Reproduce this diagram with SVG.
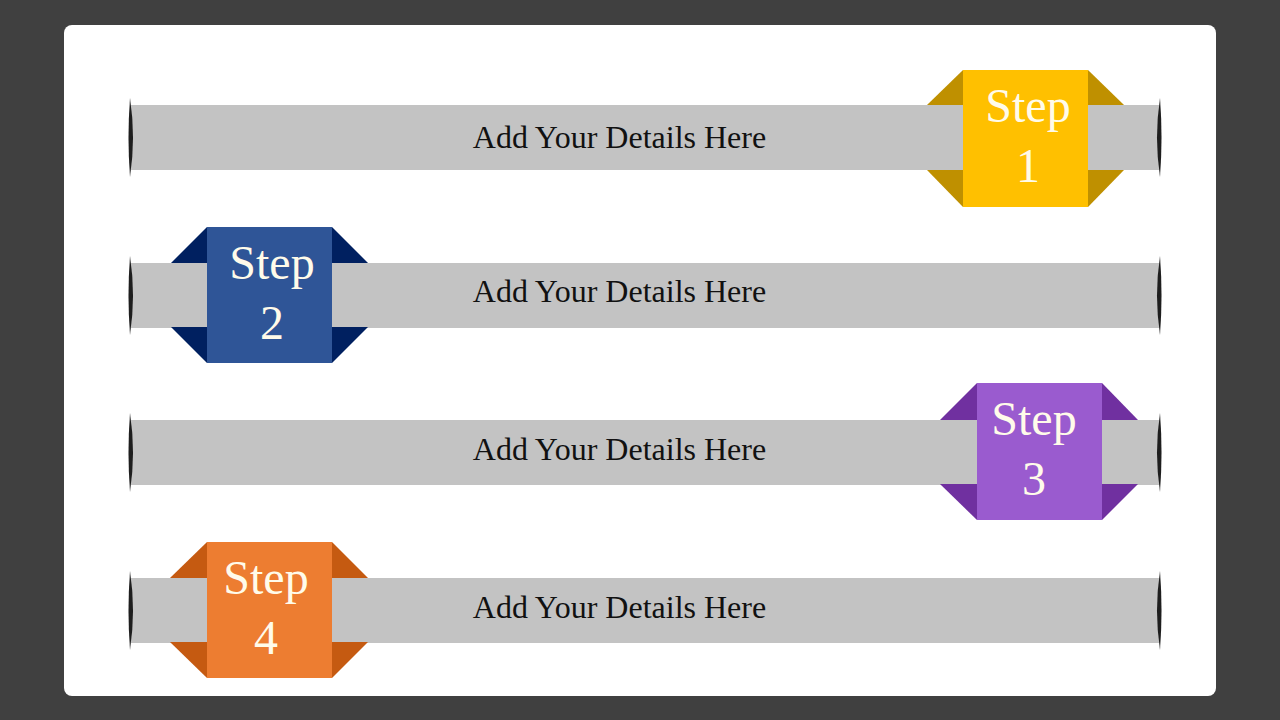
<svg xmlns="http://www.w3.org/2000/svg" width="1280" height="720" viewBox="0 0 1280 720">
  <defs>
    <style>
      .bar { fill: #C3C3C3; }
      .cap { fill: #1E1E1E; }
      .detail { font-family: "Liberation Serif", "DejaVu Serif", serif; font-size: 32px; fill: #111111; text-anchor: middle; }
      .step { font-family: "Liberation Serif", "DejaVu Serif", serif; font-size: 48px; fill: #FFFBEA; text-anchor: middle; }
    </style>
  </defs>
  <rect x="0" y="0" width="1280" height="720" fill="#404040"/>
  <rect x="64" y="25" width="1152" height="671" rx="8" ry="8" fill="#FFFFFF"/>

  <g id="bar1">
    <rect class="bar" x="131" y="105" width="1028" height="65"/>
    <path class="cap" d="M130,98 Q136,137.5 130,177 Q127,137.5 130,98 Z"/>
    <path class="cap" d="M1160,98 Q1163,137.5 1160,177 Q1154,137.5 1160,98 Z"/>
    <text class="detail" x="619.5" y="148">Add Your Details Here</text>
  </g>
  <g id="bar2">
    <rect class="bar" x="131" y="263" width="1028" height="65"/>
    <path class="cap" d="M130,256 Q136,295.5 130,335 Q127,295.5 130,256 Z"/>
    <path class="cap" d="M1160,256 Q1163,295.5 1160,335 Q1154,295.5 1160,256 Z"/>
    <text class="detail" x="619.5" y="302">Add Your Details Here</text>
  </g>
  <g id="bar3">
    <rect class="bar" x="131" y="420" width="1028" height="65"/>
    <path class="cap" d="M130,413 Q136,452.5 130,492 Q127,452.5 130,413 Z"/>
    <path class="cap" d="M1160,413 Q1163,452.5 1160,492 Q1154,452.5 1160,413 Z"/>
    <text class="detail" x="619.5" y="460">Add Your Details Here</text>
  </g>
  <g id="bar4">
    <rect class="bar" x="131" y="578" width="1028" height="65"/>
    <path class="cap" d="M130,571 Q136,610.5 130,650 Q127,610.5 130,571 Z"/>
    <path class="cap" d="M1160,571 Q1163,610.5 1160,650 Q1154,610.5 1160,571 Z"/>
    <text class="detail" x="619.5" y="618">Add Your Details Here</text>
  </g>

  <g id="step1">
    <g fill="#BF9000">
      <polygon points="927,105 963,70 963,105"/>
      <polygon points="927,170 963,207 963,170"/>
      <polygon points="1088,70 1124,105 1088,105"/>
      <polygon points="1088,170 1124,170 1088,207"/>
    </g>
    <rect x="963" y="70" width="125" height="137" fill="#FFC000"/>
    <text class="step" x="1028" y="122">Step</text>
    <text class="step" x="1028" y="182">1</text>
  </g>
  <g id="step2">
    <g fill="#002060">
      <polygon points="171,263 207,227 207,263"/>
      <polygon points="171,327 207,363 207,327"/>
      <polygon points="332,227 368,263 332,263"/>
      <polygon points="332,327 368,327 332,363"/>
    </g>
    <rect x="207" y="227" width="125" height="136" fill="#2F5597"/>
    <text class="step" x="272" y="279">Step</text>
    <text class="step" x="272" y="339">2</text>
  </g>
  <g id="step3">
    <g fill="#7030A0">
      <polygon points="940,420 977,383 977,420"/>
      <polygon points="940,484 977,520 977,484"/>
      <polygon points="1102,383 1138,420 1102,420"/>
      <polygon points="1102,484 1138,484 1102,520"/>
    </g>
    <rect x="977" y="383" width="125" height="137" fill="#9A5BCF"/>
    <text class="step" x="1034" y="435">Step</text>
    <text class="step" x="1034" y="495">3</text>
  </g>
  <g id="step4">
    <g fill="#C55A11">
      <polygon points="170,578 207,542 207,578"/>
      <polygon points="170,642 207,678 207,642"/>
      <polygon points="332,542 368,578 332,578"/>
      <polygon points="332,642 368,642 332,678"/>
    </g>
    <rect x="207" y="542" width="125" height="136" fill="#ED7D31"/>
    <text class="step" x="266" y="594">Step</text>
    <text class="step" x="266" y="654">4</text>
  </g>
</svg>
